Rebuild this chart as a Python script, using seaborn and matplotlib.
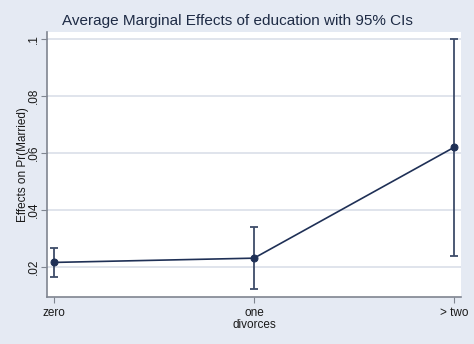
import numpy as np
import pandas as pd
import seaborn as sns
import matplotlib
matplotlib.use("Agg")
import matplotlib.pyplot as plt

categories = ["zero", "one", "> two"]
effects = [0.0215, 0.0230, 0.0620]
ci_low = [0.0165, 0.0120, 0.0239]
ci_high = [0.0267, 0.0339, 0.1001]
yticks = [0.02, 0.04, 0.06, 0.08, 0.10]
ytick_labels = [".02", ".04", ".06", ".08", ".1"]

sns.set_theme(style="white")
plt.rcParams["font.family"] = ["Liberation Sans", "DejaVu Sans"]

bg = "#E5EAF3"
navy = "#1F3056"
ci_col = "#3E4C69"

df = pd.DataFrame({"pos": np.arange(len(categories)), "effect": effects})

fig = plt.figure(figsize=(4.74, 3.44), dpi=100, facecolor=bg)
ax = fig.add_axes([47 / 474, 1 - 297 / 344, 414 / 474, 265 / 344])
ax.set_facecolor("white")

ax.vlines(df["pos"], ci_low, ci_high, color=ci_col, lw=1.3, zorder=2)
ax.hlines(ci_low, df["pos"] - 0.022, df["pos"] + 0.022, color=ci_col, lw=1.3, zorder=2)
ax.hlines(ci_high, df["pos"] - 0.022, df["pos"] + 0.022, color=ci_col, lw=1.3, zorder=2)

sns.lineplot(data=df, x="pos", y="effect", ax=ax, color=navy, lw=1.2,
             marker="o", markersize=5, markeredgecolor=navy, zorder=3)

ax.set_xlim(-0.035, 2.035)
ax.set_ylim(0.00933, 0.1026)
ax.set_xticks(df["pos"])
ax.set_xticklabels(categories, fontsize=8.5)
ax.set_yticks(yticks)
ax.set_yticklabels(ytick_labels, fontsize=8.5, rotation=90, va="center")
ax.grid(axis="y", color="#E0E4EC", lw=1.4)
ax.grid(axis="x", visible=False)
ax.set_axisbelow(True)

for s in ["top", "right"]:
    ax.spines[s].set_visible(False)
for s in ["left", "bottom"]:
    ax.spines[s].set_color("#7F8590")
    ax.spines[s].set_linewidth(1.2)

ax.tick_params(axis="both", which="both", length=4, width=0.8,
               direction="out", left=True, bottom=True, pad=3)
ax.tick_params(axis="both", colors="#7F8590", labelcolor="#1a1a1a")
ax.tick_params(axis="y", pad=1)

ax.set_xlabel("divorces", fontsize=8.5, labelpad=0, color="#1a1a1a")
ax.set_ylabel("Effects on Pr(Married)", fontsize=8.5, labelpad=-1, color="#1a1a1a")
fig.text(237 / 474, 1 - 21 / 344, "Average Marginal Effects of education with 95% CIs",
         fontsize=11, color="#1E2B45", ha="center", va="center")

fig.savefig("out.png", dpi=100, facecolor=bg)
